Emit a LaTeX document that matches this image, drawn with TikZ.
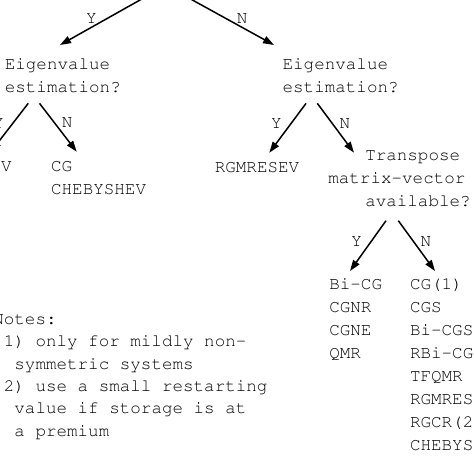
\documentclass[tikz,border=0pt]{standalone}
\usepackage[T1]{fontenc}
\usepackage{courier}
\usetikzlibrary{arrows.meta}

\begin{document}
\begin{tikzpicture}[
			nodefont/.style={font=\fontsize{10}{13.1}\ttfamily, inner sep=0, anchor=base west, align=left},
			notefont/.style={font=\fontsize{10}{12.7}\ttfamily, inner sep=0, anchor=base west, align=left},
			arr/.style={line width=0.85pt, -{Triangle[length=0.22cm, width=0.15cm]}},
			lab/.style={font=\fontsize{10}{10}\ttfamily, inner sep=0}
		]
		\path[use as bounding box, clip] (0, 0) rectangle (9.48, 9.48);

		% 两个问题节点 (base = 最后一行)
		\node[nodefont] (eigL) at (0.09, 7.62) {Eigenvalue\\estimation?};
		\node[nodefont] (eigR) at (5.646, 7.62) {Eigenvalue\\estimation?};
		\coordinate (topY) at (3.21, 9.71);
		\coordinate (topN) at (3.43, 9.71);
		\draw[arr] (topY) -- node[lab, pos=0.53, xshift=-0.316cm] {Y} ([shift={(1.11, 0.96)}]eigL.base west);
		\draw[arr] (topN) -- node[lab, pos=0.53, xshift=0.326cm] {N} ([shift={(-0.166, 0.96)}]eigR.base west);

		% 左边的叶子
		\node[nodefont] (leafLY) at (-0.616, 6.04) {CGEV};
		\node[nodefont] (leafLN) at (1.016, 5.58) {CG\\CHEBYSHEV};
		\draw[arr] ([shift={(0.475, -0.207)}]eigL.base west) -- node[lab, pos=0.41, xshift=-0.29cm] {Y} ([shift={(0.434, 0.406)}]leafLY.base west);
		\draw[arr] ([shift={(0.70, -0.207)}]eigL.base west) -- node[lab, pos=0.41, xshift=0.25cm] {N} ([shift={(0.518, 0.866)}]leafLN.base west);

		% 右边: RGMRESEV 和转置问题
		\node[nodefont] (leafRY) at (4.29, 6.02) {RGMRESEV};
		\node[nodefont] (transp) at (6.56, 5.346) {\hspace*{21pt}Transpose\\matrix-vector\\\hspace*{21pt}available?};
		\draw[arr] ([shift={(0.475, -0.207)}]eigR.base west) -- node[lab, pos=0.41, xshift=-0.29cm] {Y} ([shift={(1.096, 0.406)}]leafRY.base west);
		\draw[arr] ([shift={(0.70, -0.207)}]eigR.base west) -- node[lab, pos=0.41, xshift=0.25cm] {N} ([shift={(0.52, 1.08)}]transp.base west);

		% 最后两列方法
		\node[nodefont] (listY) at (6.58, 2.314) {Bi-CG\\CGNR\\CGNE\\QMR};
		\node[nodefont] (listN) at (8.194, 0.474) {CG(1)\\CGS\\Bi-CGSTAB\\RBi-CGSTAB\\TFQMR\\RGMRES\\RGCR(2)\\CHEBYSHEV};
		\draw[arr] ([shift={(1.16, -0.28)}]transp.base west) -- node[lab, pos=0.41, xshift=-0.29cm] {Y} ([shift={(0.42, 1.746)}]listY.base west);
		\draw[arr] ([shift={(1.406, -0.28)}]transp.base west) -- node[lab, pos=0.41, xshift=0.25cm] {N} ([shift={(0.506, 3.586)}]listN.base west);

		% 注释
		\node[notefont] (notes) at (-0.14, 0.756) {Notes:\\~1) only for mildly non-\\~~symmetric systems\\~2) use a small restarting\\~~value if storage is at\\~~a premium};
	\end{tikzpicture}
\end{document}
